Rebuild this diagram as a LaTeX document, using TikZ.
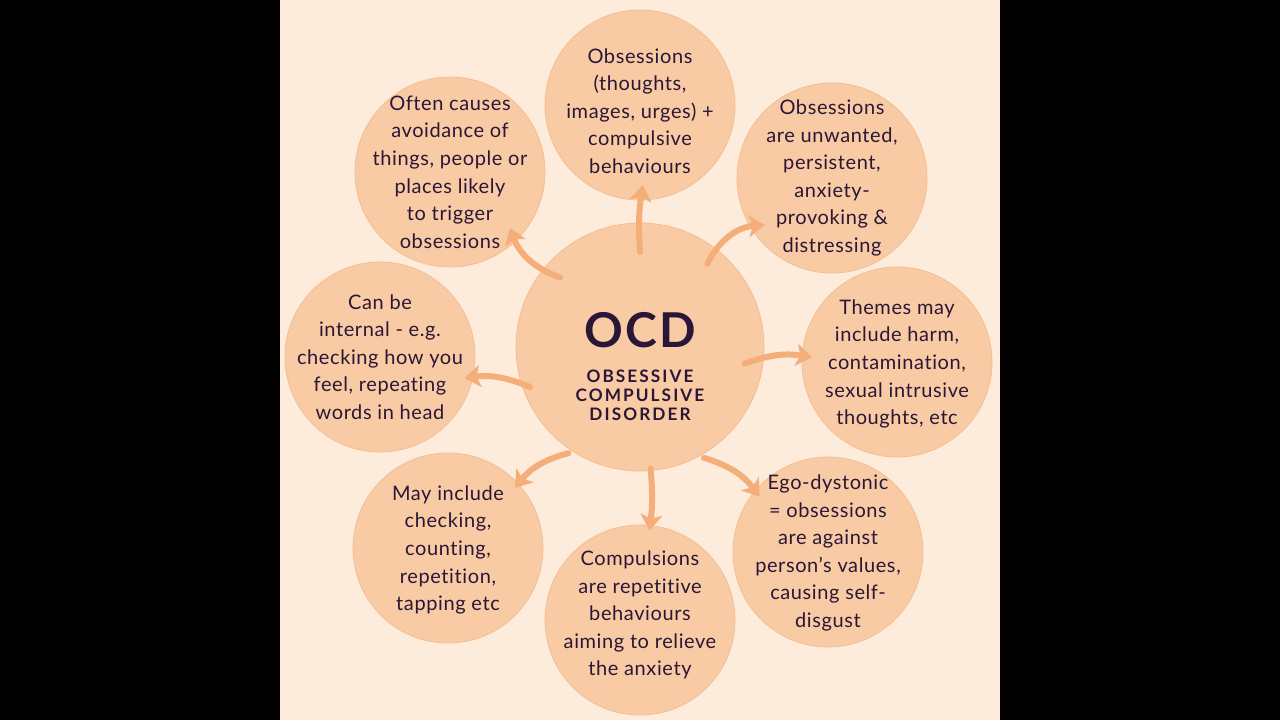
\documentclass[tikz,border=0pt]{standalone}
\usepackage{fontspec}
\setmainfont[Ligatures={NoCommon},LetterSpace=3]{Lato}
\newfontfamily\subfont[LetterSpace=12]{Lato}
\newfontfamily\ocdfont[LetterSpace=5]{Lato}
\usetikzlibrary{arrows.meta,calc}
\definecolor{bg}{HTML}{FDEBDC}
\definecolor{bubin}{HTML}{F9CBA4}
\definecolor{bubout}{HTML}{F5BA8C}
\definecolor{bubedge}{HTML}{F6BD90}
\definecolor{arrowc}{HTML}{F3AE79}
\definecolor{ink}{HTML}{2A1738}
\pgfdeclareradialshading{bubshade}{\pgfpoint{0bp}{0bp}}{color(0bp)=(bubin); color(36bp)=(bubin); color(50bp)=(bubout)}
\tikzset{
  bubble/.style={circle, inner sep=0pt, minimum size=95pt, shading=bubshade, draw=bubedge, line width=0.4pt},
  bigbubble/.style={bubble, minimum size=124pt},
  txt/.style={text=ink, align=center, font=\fontsize{10}{13.8}\selectfont, inner sep=0pt},
  arr/.style={draw=arrowc, line width=3pt, line cap=round, -{Stealth[length=8pt,width=11pt,inset=2pt]}}
}
\begin{document}
\begin{tikzpicture}[x=0.5pt,y=0.5pt]
\fill[black] (0,0) rectangle (1280,-720);
\fill[bg] (280,0) rectangle (1000,-720);
\useasboundingbox (0,0) rectangle (1280,-720);

% circles
\node[bigbubble] (c) at (640,-347) {};
\node[bubble] (t) at (640,-105) {};
\node[bubble] (tr) at (832,-178) {};
\node[bubble] (r) at (897,-362) {};
\node[bubble] (br) at (828,-552) {};
\node[bubble] (b) at (640,-620) {};
\node[bubble] (bl) at (448,-548) {};
\node[bubble] (l) at (380,-357) {};
\node[bubble] (tl) at (450,-172) {};

% texts
\node[text=ink, inner sep=0pt, font=\fontsize{24}{24}\ocdfont\bfseries] (ocd) at (640,-330) {OCD};
\node[text=ink, inner sep=0pt, align=center, font=\fontsize{8.6}{9.6}\subfont\bfseries] (full) at (640,-395) {OBSESSIVE\\COMPULSIVE\\DISORDER};
\node[txt] (tt) at (640,-111) {Obsessions\\(thoughts,\\images, urges) +\\compulsive\\behaviours};
\node[txt] (trt) at (832,-178) {Obsessions\\are unwanted,\\persistent,\\anxiety-\\provoking \&\\distressing};
\node[txt] (rt) at (897,-364) {Themes may\\include harm,\\contamination,\\sexual intrusive\\thoughts, etc};
\node[txt] (brt) at (828,-553) {Ego-dystonic\\= obsessions\\are against\\person{\char"0027}s values,\\causing self-\\disgust};
\node[txt] (bt) at (640,-615) {Compulsions\\are repetitive\\behaviours\\aiming to relieve\\the anxiety};
\node[txt] (blt) at (448,-550) {May include\\checking,\\counting,\\repetition,\\tapping etc};
\node[txt] (lt) at (380,-357) {Can be\\internal - e.g.\\checking how you\\feel, repeating\\words in head};
\node[txt] (tlt) at (450,-172) {Often causes\\avoidance of\\things, people or\\places likely\\to trigger\\obsessions};

% arrows
\draw[arr] ($(c.center)+(90:95)$) to[bend left=6] ($(t.center)+(-88:80)$);
\draw[arr] ($(c.center)+(51:107)$) to[bend left=30] ($(tr.center)+(215:82)$);
\draw[arr] ($(c.center)+(-9:106)$) to[bend left=15] ($(r.center)+(177:85)$);
\draw[arr] ($(c.center)+(-60:128)$) to[bend left=18] ($(br.center)+(141:88)$);
\draw[arr] ($(c.center)+(-85:122)$) to[bend left=6] ($(b.center)+(84:90)$);
\draw[arr] ($(c.center)+(236:128)$) to[bend right=18] ($(bl.center)+(42:90)$);
\draw[arr] ($(c.center)+(200:117)$) to[bend right=15] ($(l.center)+(-14:87)$);
\draw[arr] ($(c.center)+(139:106)$) to[bend left=25] ($(tl.center)+(-43:82)$);
\end{tikzpicture}
\end{document}
